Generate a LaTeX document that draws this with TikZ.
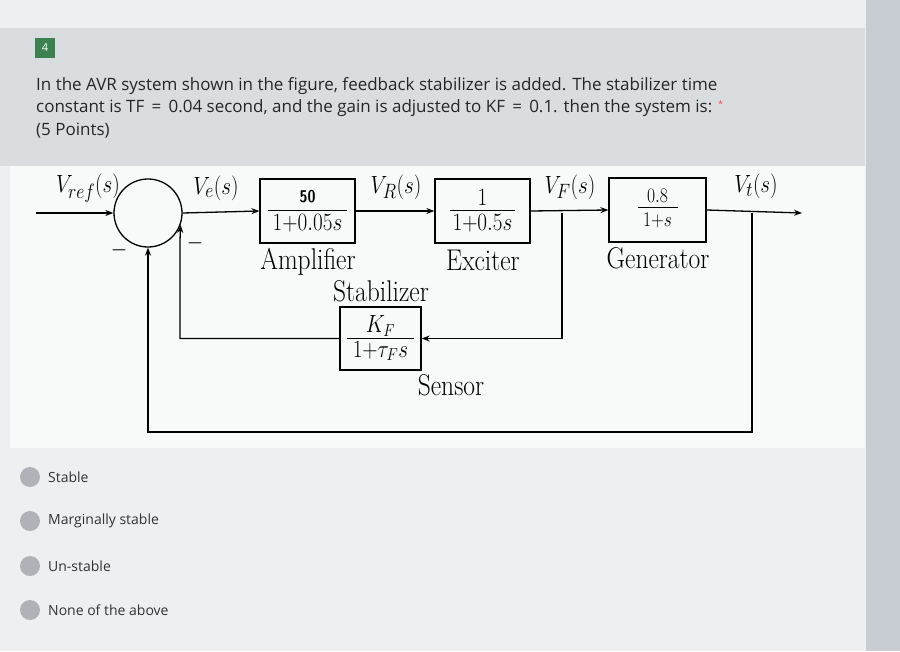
\documentclass[tikz,border=0pt]{standalone}
\usepackage{fontspec}
\newfontfamily\osans{Open Sans}
\usetikzlibrary{arrows.meta}
\definecolor{pagebg}{RGB}{238,239,240}
\definecolor{band}{RGB}{218,221,224}
\definecolor{strip}{RGB}{200,205,212}
\definecolor{qgreen}{RGB}{60,130,80}
\definecolor{radio}{RGB}{175,178,182}
\tikzset{
  blk/.style={draw,line width=1.3pt,inner sep=0pt},
  lab/.style={font=\fontsize{30}{30}\selectfont,xscale=0.85,inner sep=0pt},
  flab/.style={font=\fontsize{23}{23}\selectfont,xscale=0.85,inner sep=0pt},
  glab/.style={font=\fontsize{20}{20}\selectfont,xscale=0.85,inner sep=0pt},
  sig/.style={line width=1.3pt},
  arr/.style={sig,-{Stealth[length=8pt,width=6pt]}},
  qtxt/.style={font=\osans\fontsize{17}{19}\selectfont,anchor=west,inner sep=0pt,text=black!85},
  opt/.style={font=\osans\fontsize{14}{15}\selectfont,anchor=west,inner sep=0pt,text=black!80},
}
\begin{document}
\begin{tikzpicture}[x=1pt,y=-1pt]
\useasboundingbox (0,0) rectangle (900,651);
\fill[pagebg] (0,0) rectangle (900,651);
\fill[band] (0,28) rectangle (865,166);
\fill[white!60!pagebg] (10,166) rectangle (865,448);
\fill[strip] (866,0) rectangle (900,651);
\node[fill=qgreen,text=white,font=\osans\fontsize{11}{12}\selectfont,minimum size=20pt,inner sep=0pt] (num) at (45,48) {4};
\node[qtxt] (q1) at (36,86) {In the AVR system shown in the figure, feedback stabilizer is added. The stabilizer time};
\node[qtxt] (q2) at (36,108) {constant is TF \,=\, 0.04 second, and the gain is adjusted to KF \,=\, 0.1. then the system is: \textcolor{red!70}{\raisebox{5pt}{\fontsize{9}{9}\selectfont*}}};
\node[qtxt] (q3) at (36,131) {(5 Points)};

% diagram
\node[draw,sig,circle,minimum size=68pt,inner sep=0pt] (sum) at (148,213) {};
\node[blk,minimum width=95pt,minimum height=64pt] (amp) at (307.5,211) {};
\node[flab] at (307.5,197) {\sffamily\bfseries\fontsize{17}{17}\selectfont 50};
\draw[line width=1pt] (268,210) -- (347,210);
\node[flab] at (307.5,223) {$1{+}0.05s$};
\node[blk,minimum width=95pt,minimum height=64pt] (exc) at (482.5,211) {};
\node[flab] at (482.5,197) {$1$};
\draw[line width=1pt] (450,210) -- (515,210);
\node[flab] at (482.5,223) {$1{+}0.5s$};
\node[blk,minimum width=97pt,minimum height=64pt] (gen) at (657.5,210) {};
\node[glab] at (657.5,196) {$0.8$};
\draw[line width=1pt] (638,207) -- (678,207);
\node[glab] at (657.5,220) {$1{+}s$};
\node[blk,minimum width=81pt,minimum height=63pt] (stab) at (380.5,338.5) {};
\node[flab] at (380.5,326) {$K_F$};
\draw[line width=1pt] (347,338) -- (414,338);
\node[flab] at (380.5,351) {$1{+}\tau_F s$};

\coordinate (in) at (36,213);
\coordinate (out) at (802,213);
\coordinate (vf) at (562,213);
\coordinate (vt) at (752,213);
\draw[arr] (in) -- (sum.west);
\draw[arr] (sum.east) -- (amp.west);
\draw[arr] (amp.east) -- (exc.west);
\draw[arr] (exc.east) -- (gen.west);
\draw[arr] (gen.east) -- (out);
\draw[arr] (vf) |- (stab.east);
\draw[arr] (stab.west) -| (180,241) -- (sum.-20) ;
\draw[arr] (vt) |- (148,432) -- (sum.south);

\node[lab] at (88,188) {$V_{ref}(s)$};
\node[lab] at (216,188) {$V_e(s)$};
\node[lab] at (396,187) {$V_R(s)$};
\node[lab] at (570,187) {$V_F(s)$};
\node[lab] at (756,186) {$V_t(s)$};
\node[lab] at (119,250) {$-$};
\node[lab] at (195,243) {$-$};
\node[lab] at (308,262) {Amplifier};
\node[lab] at (483,260) {Exciter};
\node[lab] at (658,258) {Generator};
\node[lab] at (381,291) {Stabilizer};
\node[lab] at (451,385) {Sensor};

% options
\foreach \yy/\t [count=\i] in {477/Stable,521/Marginally stable,566/Un-stable,610/None of the above}{
  \fill[radio] (30,\yy) circle (10pt);
  \node[opt] (o\i) at (48,\yy) {\t};
}
\end{tikzpicture}
\end{document}
